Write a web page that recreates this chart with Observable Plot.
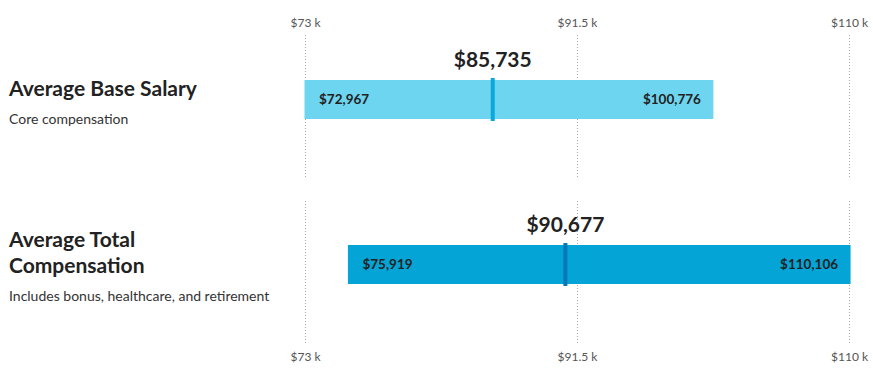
<!DOCTYPE html>
<html>
<head>
<meta charset="utf-8">
<script src="https://cdn.jsdelivr.net/npm/d3@7"></script>
<script src="https://cdn.jsdelivr.net/npm/@observablehq/plot@0.6"></script>
<style>
  html, body { margin: 0; padding: 0; background: #fff; }
  #wrap { position: relative; width: 873px; height: 379px; font-family: Lato, "Noto Sans", sans-serif; color: #222; overflow: hidden; }
  .panel { position: absolute; left: 0; }
  .lbl { position: absolute; left: 9px; }
  .ttl { font-weight: bold; font-size: 21px; line-height: 26px; color: #222; }
  .sub { font-size: 14px; line-height: 18px; font-weight: 400; color: #333; margin-top: 9px; }
</style>
</head>
<body>
<div id="wrap"></div>
<script>
const categories = ["Average Base Salary", "Average Total Compensation"];
const titleLines = [["Average Base Salary"], ["Average Total", "Compensation"]];
const subtitles = ["Core compensation", "Includes bonus, healthcare, and retirement"];
const lows = [72967, 75919];
const medians = [85735, 90677];
const highs = [100776, 110106];
const tickValues = [73000, 91500, 110000];
const tickLabels = ["$73 k", "$91.5 k", "$110 k"];
const barColors = ["#6dd5ef", "#04a4d6"];
const markerColors = ["#0aa8dc", "#0079b8"];

const fmt = v => "$" + d3.format(",")(v);
const wrap = document.getElementById("wrap");

const layouts = [
  { top: 0, height: 190, marginTop: 35, marginBottom: 11, band: [80, 119], anchor: "top", tickPadding: 9, labelTop: 75 },
  { top: 190, height: 189, marginTop: 11, marginBottom: 34, band: [55, 94], anchor: "bottom", tickPadding: 7, labelTop: 226 }
];

categories.forEach((cat, i) => {
  const L = layouts[i];
  const row = [{ cat, low: lows[i], median: medians[i], high: highs[i] }];
  const chart = Plot.plot({
    width: 873,
    height: L.height,
    marginLeft: 305,
    marginRight: 24,
    marginTop: L.marginTop,
    marginBottom: L.marginBottom,
    style: { fontFamily: "Lato, 'Noto Sans', sans-serif", background: "transparent" },
    x: { domain: [73000, 110000] },
    y: { type: "band", domain: [cat], range: L.band, padding: 0, axis: null },
    marks: [
      Plot.gridX(tickValues, { stroke: "#aaa", strokeOpacity: 1, strokeDasharray: "1,2" }),
      Plot.axisX({
        anchor: L.anchor,
        ticks: tickValues,
        tickSize: 0,
        tickPadding: L.tickPadding,
        tickFormat: d => tickLabels[tickValues.indexOf(d)],
        fill: "#555",
        fontSize: 12,
        label: null
      }),
      Plot.barX(row, { x1: "low", x2: "high", y: "cat", fill: barColors[i] }),
      Plot.tickX(row, { x: "median", y: "cat", stroke: markerColors[i], strokeWidth: 4, insetTop: -2, insetBottom: -2 }),
      Plot.text(row, { x: "low", y: "cat", text: d => fmt(d.low), textAnchor: "start", dx: 14, fontWeight: "bold", fontSize: 13.5, fill: "#222" }),
      Plot.text(row, { x: "high", y: "cat", text: d => fmt(d.high), textAnchor: "end", dx: -13, fontWeight: "bold", fontSize: 13.5, fill: "#222" }),
      Plot.text(row, { x: "median", y: "cat", text: d => fmt(d.median), dy: -40, fontWeight: "bold", fontSize: 21, fill: "#222" })
    ]
  });
  chart.classList.add("panel");
  chart.style.top = L.top + "px";
  wrap.appendChild(chart);

  const lbl = document.createElement("div");
  lbl.className = "lbl";
  lbl.style.top = L.labelTop + "px";
  const t = document.createElement("div");
  t.className = "ttl";
  t.innerHTML = titleLines[i].join("<br>");
  const s = document.createElement("div");
  s.className = "sub";
  s.textContent = subtitles[i];
  lbl.appendChild(t);
  lbl.appendChild(s);
  wrap.appendChild(lbl);
});
</script>
</body>
</html>
